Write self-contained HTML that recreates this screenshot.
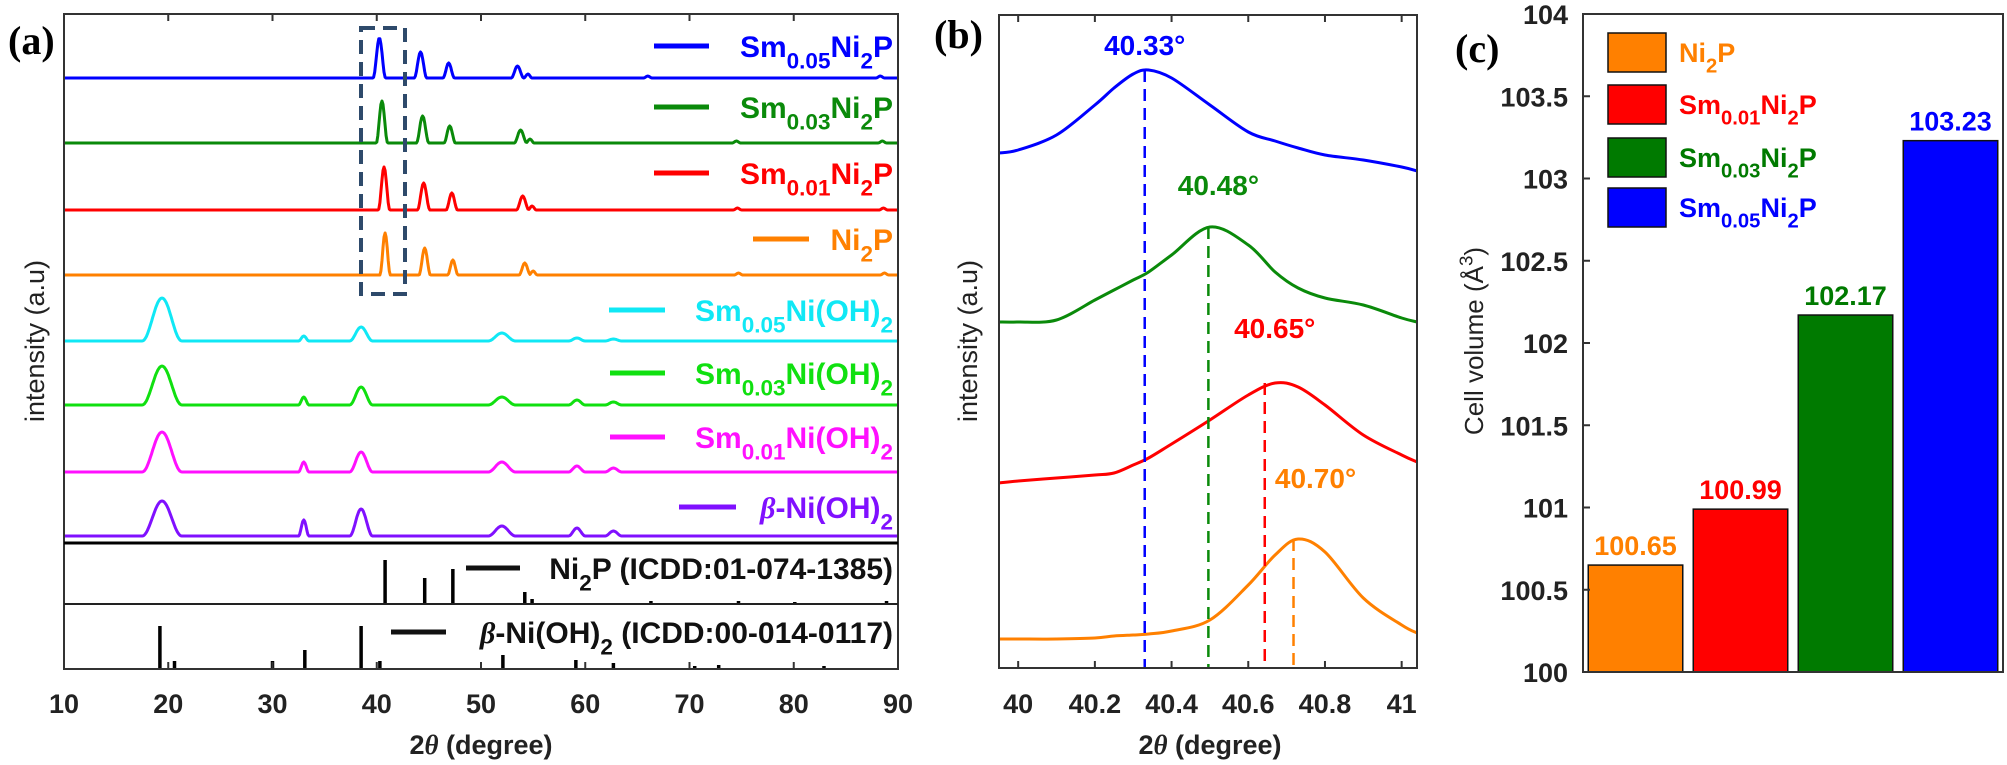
<!DOCTYPE html>
<html><head><meta charset="utf-8"><style>
html,body{margin:0;padding:0;background:#fff;}
svg{display:block;font-family:"Liberation Sans",Arial,sans-serif;}
.tk{font-size:27px;font-weight:bold;fill:#222;}
</style></head><body>
<svg id="fig" width="2007" height="765" viewBox="0 0 2007 765" xmlns="http://www.w3.org/2000/svg">
<text x="8" y="54" font-family="Liberation Serif,serif" font-weight="bold" font-size="40">(a)</text>
<text x="934" y="48" font-family="Liberation Serif,serif" font-weight="bold" font-size="40">(b)</text>
<text x="1455" y="62" font-family="Liberation Serif,serif" font-weight="bold" font-size="40">(c)</text>
<g id="ga"></g>
<g id="gb"></g>
<g id="gc"></g>
</svg>
<script>
// ---------- Panel (a) data ----------
const aSeriesNames = ["Sm0.05Ni2P","Sm0.03Ni2P","Sm0.01Ni2P","Ni2P","Sm0.05Ni(OH)2","Sm0.03Ni(OH)2","Sm0.01Ni(OH)2","beta-Ni(OH)2"];
const aColors = ["#0000ff","#0a8a0a","#ff0000","#ff8000","#10e8f5","#10e010","#ff10ff","#8010ff"];
const aOffsets = [591,526,459,394,328,264,197,133];
// peaks: [2theta, height, half-width]
const peaksBlue = [[40.25,40,0.6],[44.2,26,0.6],[46.9,15,0.55],[53.5,12,0.6],[54.5,4,0.4],[66,2,0.4],[88.3,2,0.4]];
const peaksGreen = [[40.5,42,0.55],[44.4,27,0.6],[47.0,17,0.55],[53.8,13,0.6],[54.7,4,0.4],[74.5,2,0.4],[88.5,2,0.4]];
const peaksRed = [[40.7,43,0.55],[44.5,27,0.6],[47.2,17,0.55],[54.0,14,0.6],[54.9,4,0.4],[74.6,2,0.4],[88.6,2,0.4]];
const peaksOrange = [[40.8,42,0.5],[44.6,27,0.55],[47.3,15,0.5],[54.2,12,0.55],[55.0,4,0.4],[74.7,2,0.4],[88.7,2,0.4]];
const peaksCyan = [[19.4,43,1.9],[33.0,5,0.5],[38.5,14,1.1],[52.0,8,1.3],[59.2,3,0.8],[62.7,2,0.8]];
const peaksLime = [[19.4,39,1.9],[33.0,8,0.5],[38.5,18,1.1],[52.0,8,1.3],[59.2,5,0.8],[62.7,3,0.8]];
const peaksMagenta = [[19.4,40,1.9],[33.0,10,0.5],[38.5,20,1.1],[52.0,10,1.3],[59.2,6,0.8],[62.7,4,0.8]];
const peaksPurple = [[19.4,35,1.9],[33.0,16,0.5],[38.5,27,1.1],[52.0,10,1.3],[59.2,8,0.8],[62.7,5,0.8]];
const aPeaks = [peaksBlue,peaksGreen,peaksRed,peaksOrange,peaksCyan,peaksLime,peaksMagenta,peaksPurple];
const ni2pRefPos = [40.8,44.6,47.3,54.2,54.9,66.3,74.7,80.1,88.9];
const ni2pRefInt = [44,26,35,12,5,3,3,2,3];
const bnohRefPos = [19.2,20.6,30.0,33.1,38.5,40.3,52.1,59.1,62.7,70.5,72.8,82.9];
const bnohRefInt = [43,8,8,19,43,8,14,9,6,3,4,3];
const aTicks = [10,20,30,40,50,60,70,80,90];

// ---------- Panel (b) data ----------
const bX = [39.95,40.0,40.1,40.2,40.25,40.3,40.34,40.4,40.5,40.6,40.67,40.73,40.8,40.9,41.0,41.04];
const bBlue = [515,518,533,563,580,594,598,590,563,536,527,520,513,508,501,497];
const bGreen = [346,346,348,368,378,388,396,413,441,423,396,380,370,363,350,346];
const bRed = [185,187,190,193,195,203,210,224,248,273,285,281,263,233,213,206];
const bOrange = [29,29,29,30,32,33,34,37,48,83,113,129,116,70,43,35];
const bPeakPos = [40.33,40.496,40.643,40.718];
const bPeakTop = [598,441,285,129];
const bPeakLabels = ["40.33°","40.48°","40.65°","40.70°"];
const bTicks = [40,40.2,40.4,40.6,40.8,41];
const bTickLabels = ["40","40.2","40.4","40.6","40.8","41"];

// ---------- Panel (c) data ----------
const cCategories = ["Ni2P","Sm0.01Ni2P","Sm0.03Ni2P","Sm0.05Ni2P"];
const cValues = [100.65,100.99,102.17,103.23];
const cValueLabels = ["100.65","100.99","102.17","103.23"];
const cColors = ["#ff8000","#ff0000","#007a00","#0000ff"];
const cTicks = [100,100.5,101,101.5,102,102.5,103,103.5,104];
const cTickLabels = ["100","100.5","101","101.5","102","102.5","103","103.5","104"];

const NS="http://www.w3.org/2000/svg";
function mk(parent,tag,attrs,txt){const e=document.createElementNS(NS,tag);for(const k in attrs)e.setAttribute(k,attrs[k]);if(txt!==undefined)e.textContent=txt;parent.appendChild(e);return e;}
function formula(parent,parts,x,y,color,size,anchor){
  const t=mk(parent,'text',{x:x,y:y,fill:color,'font-size':size,'font-weight':'bold','text-anchor':anchor||'end'});
  let pend=0;
  parts.forEach(p=>{
    const s=document.createElementNS(NS,'tspan');
    let dy=pend;pend=0;
    if(p[1]==='sub'){s.setAttribute('font-size',size*0.75);dy+=size*0.38;pend=-size*0.38;}
    else if(p[1]==='sup'){s.setAttribute('font-size',size*0.72);dy+=-size*0.4;pend=size*0.4;}
    else if(p[1]==='it'){s.setAttribute('font-style','italic');s.setAttribute('font-family','Liberation Serif,serif');}
    if(dy!==0)s.setAttribute('dy',dy);
    s.textContent=p[0];t.appendChild(s);
  });
  return t;
}
function smoothPath(pts){
  let d='M'+pts[0][0].toFixed(1)+','+pts[0][1].toFixed(1);
  for(let i=0;i<pts.length-1;i++){
    const p0=pts[Math.max(0,i-1)],p1=pts[i],p2=pts[i+1],p3=pts[Math.min(pts.length-1,i+2)];
    const c1=[p1[0]+(p2[0]-p0[0])/6,p1[1]+(p2[1]-p0[1])/6];
    const c2=[p2[0]-(p3[0]-p1[0])/6,p2[1]-(p3[1]-p1[1])/6];
    d+=' C'+c1[0].toFixed(1)+','+c1[1].toFixed(1)+' '+c2[0].toFixed(1)+','+c2[1].toFixed(1)+' '+p2[0].toFixed(1)+','+p2[1].toFixed(1);
  }
  return d;
}

// ================= Panel (a) =================
(function(){
const g=document.getElementById('ga');
const X0=64,X1=898,T=14,SB=543,RB=604,B=669;
const xA=v=>X0+(v-10)*(X1-X0)/80;
const yA=v=>B-v;
aPeaks.forEach((pk,si)=>{
  const pts=[];
  for(let t=10;t<=90.001;t+=0.1){
    let h=0;
    pk.forEach(p=>{const u=(t-p[0])/p[2];if(Math.abs(u)<1){h=Math.max(h,p[1]*Math.pow(Math.cos(u*Math.PI/2),2));}});
    pts.push([xA(t),yA(aOffsets[si]+h)]);
  }
  const e=mk(g,'path',{d:'M'+pts.map(p=>p[0].toFixed(1)+','+p[1].toFixed(1)).join(' L'),fill:'none',stroke:aColors[si],'stroke-width':3,'stroke-linejoin':'round'});
  
  
});
ni2pRefPos.forEach((p,i)=>{
  const e=mk(g,'line',{x1:xA(p),x2:xA(p),y1:RB,y2:RB-ni2pRefInt[i],stroke:'#000','stroke-width':3.5});
  
  
});
bnohRefPos.forEach((p,i)=>{
  const e=mk(g,'line',{x1:xA(p),x2:xA(p),y1:B,y2:B-bnohRefInt[i],stroke:'#000','stroke-width':3.5});
  
  
});
const fr=mk(g,'rect',{x:X0,y:T,width:X1-X0,height:B-T,fill:'none',stroke:'#333','stroke-width':2});


const s1=mk(g,'line',{x1:X0,x2:X1,y1:SB,y2:SB,stroke:'#000','stroke-width':3});


const s2=mk(g,'line',{x1:X0,x2:X1,y1:RB,y2:RB,stroke:'#222','stroke-width':2});


aTicks.forEach(t=>{
  const a=mk(g,'line',{x1:xA(t),x2:xA(t),y1:B,y2:B-7,stroke:'#333','stroke-width':2});
  
  
  const b=mk(g,'line',{x1:xA(t),x2:xA(t),y1:T,y2:T+7,stroke:'#333','stroke-width':2});
  
  
  const l=mk(g,'text',{x:xA(t),y:713,'text-anchor':'middle',class:'tk'},String(t));
  
  
});
const xl=formula(g,[['2',''],['θ','it'],[' (degree)','']],xA(50),754,'#222',27,'middle');


const yl=mk(g,'text',{x:0,y:0,transform:'translate(44,341) rotate(-90)','text-anchor':'middle','font-size':27,fill:'#222'},'intensity (a.u)');


const db=mk(g,'rect',{x:361,y:28,width:44,height:266,fill:'none',stroke:'#2e4a6b','stroke-width':4,'stroke-dasharray':'14,8'});


const leg=[
 [[['Sm',''],['0.05','sub'],['Ni',''],['2','sub'],['P','']],654,709,46,aColors[0]],
 [[['Sm',''],['0.03','sub'],['Ni',''],['2','sub'],['P','']],654,709,107,aColors[1]],
 [[['Sm',''],['0.01','sub'],['Ni',''],['2','sub'],['P','']],654,709,173,aColors[2]],
 [[['Ni',''],['2','sub'],['P','']],753,809,239,aColors[3]],
 [[['Sm',''],['0.05','sub'],['Ni(OH)',''],['2','sub']],609,665,310,aColors[4]],
 [[['Sm',''],['0.03','sub'],['Ni(OH)',''],['2','sub']],610,665,373,aColors[5]],
 [[['Sm',''],['0.01','sub'],['Ni(OH)',''],['2','sub']],610,665,437,aColors[6]],
 [[['β','it'],['-Ni(OH)',''],['2','sub']],679,736,507,aColors[7]],
 [[['Ni',''],['2','sub'],['P (ICDD:01-074-1385)','']],466,520,568,'#111'],
 [[['β','it'],['-Ni(OH)',''],['2','sub'],[' (ICDD:00-014-0117)','']],391,446,632,'#111']
];
leg.forEach((L,i)=>{
  const ln=mk(g,'line',{x1:L[1],x2:L[2],y1:L[3],y2:L[3],stroke:L[4],'stroke-width':5});
  
  
  const t=formula(g,L[0],893,L[3]+11,L[4],30,'end');
  
  
});
})();

// ================= Panel (b) =================
(function(){
const g=document.getElementById('gb');
const X0=999,X1=1417,T=15,B=668;
const xB=v=>X0+(v-39.95)*(X1-X0)/1.09;
const yB=v=>B-v*(B-T)/653;
const cols=["#0000ff","#0a8a0a","#ff0000","#ff8000"];
const names=["sm005","sm003","sm001","ni2p"];
[bBlue,bGreen,bRed,bOrange].forEach((arr,si)=>{
  const pts=bX.map((x,i)=>[xB(x),yB(arr[i])]);
  const e=mk(g,'path',{d:smoothPath(pts),fill:'none',stroke:cols[si],'stroke-width':3});
  
  
});
const loff=[[0,-25],[10,-42],[10,-55],[22,-61]];
bPeakPos.forEach((p,i)=>{
  const d=mk(g,'line',{x1:xB(p),x2:xB(p),y1:yB(bPeakTop[i]),y2:B,stroke:cols[i],'stroke-width':2.5,'stroke-dasharray':'12,7'});
  
  
  const t=mk(g,'text',{x:xB(p)+loff[i][0],y:yB(bPeakTop[i])+loff[i][1]+10,'text-anchor':'middle','font-size':28,'font-weight':'bold',fill:cols[i]},bPeakLabels[i]);
  
  
});
const fr=mk(g,'rect',{x:X0,y:T,width:X1-X0,height:B-T,fill:'none',stroke:'#333','stroke-width':2});


bTicks.forEach((t,i)=>{
  const a=mk(g,'line',{x1:xB(t),x2:xB(t),y1:B,y2:B-7,stroke:'#333','stroke-width':2});
  
  
  const b=mk(g,'line',{x1:xB(t),x2:xB(t),y1:T,y2:T+7,stroke:'#333','stroke-width':2});
  
  
  const l=mk(g,'text',{x:xB(t),y:713,'text-anchor':'middle',class:'tk'},bTickLabels[i]);
  
  
});
const xl=formula(g,[['2',''],['θ','it'],[' (degree)','']],1210,754,'#222',27,'middle');


const yl=mk(g,'text',{x:0,y:0,transform:'translate(977,341) rotate(-90)','text-anchor':'middle','font-size':27,fill:'#222'},'intensity (a.u)');


})();

// ================= Panel (c) =================
(function(){
const g=document.getElementById('gc');
const X0=1583,X1=2003,T=14,B=672;
const yC=v=>B-(v-100)*(B-T)/4;
const band=(X1-X0)/cCategories.length;
const bw=band*0.9;
cValues.forEach((v,i)=>{
  const cx=X0+band*(i+0.5);
  const r=mk(g,'rect',{x:cx-bw/2,y:yC(v),width:bw,height:B-yC(v),fill:cColors[i],stroke:'#111','stroke-width':1.5});
  
  
  const t=mk(g,'text',{x:cx,y:yC(v)-10,'text-anchor':'middle','font-size':27,'font-weight':'bold',fill:cColors[i]},cValueLabels[i]);
  
  
});
const fr=mk(g,'rect',{x:X0,y:T,width:X1-X0,height:B-T,fill:'none',stroke:'#333','stroke-width':2});


cTicks.forEach((t,i)=>{
  const a=mk(g,'line',{x1:X0,x2:X0+7,y1:yC(t),y2:yC(t),stroke:'#333','stroke-width':2});
  
  
  const l=mk(g,'text',{x:1568,y:yC(t)+10,'text-anchor':'end',class:'tk'},cTickLabels[i]);
  
  
});
const yl=formula(g,[['Cell volume (Å',''],['3','sup'],[')','']],0,0,'#222',26,'middle');
yl.setAttribute('transform','translate(1483,341) rotate(-90)');
yl.setAttribute('font-weight','normal');


const legParts=[
 [['Ni',''],['2','sub'],['P','']],
 [['Sm',''],['0.01','sub'],['Ni',''],['2','sub'],['P','']],
 [['Sm',''],['0.03','sub'],['Ni',''],['2','sub'],['P','']],
 [['Sm',''],['0.05','sub'],['Ni',''],['2','sub'],['P','']]
];
const legY=[33,85,138,188];
cCategories.forEach((c,i)=>{
  const r=mk(g,'rect',{x:1608,y:legY[i],width:58,height:39,fill:cColors[i],stroke:'#111','stroke-width':1.5});
  
  
  const t=formula(g,legParts[i],1679,legY[i]+29,cColors[i],27,'start');
  
  
});
})();
</script>
</body></html>
